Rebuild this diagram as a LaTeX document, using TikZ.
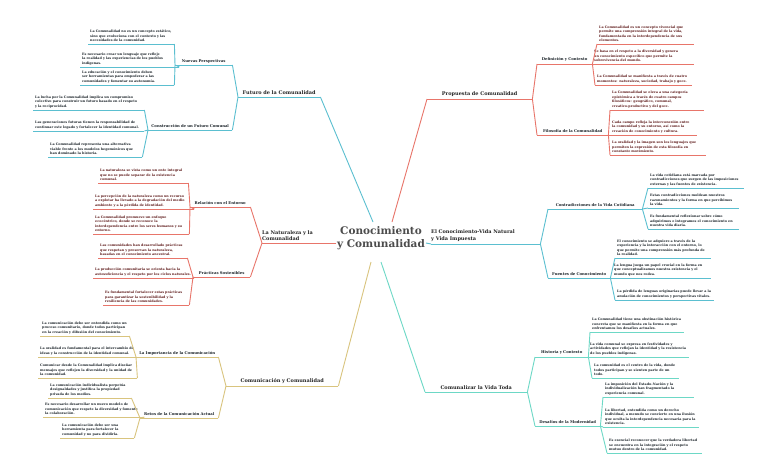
\documentclass[tikz,border=0pt]{standalone}
\usepackage{fontspec}
\setmainfont{DejaVu Serif}
\definecolor{cTeal}{HTML}{5BBFD0}
\definecolor{cRed}{HTML}{E8756A}
\definecolor{cTan}{HTML}{D9C47E}
\definecolor{cMint}{HTML}{6DD8C6}
\definecolor{tRed}{HTML}{5E1A1A}
\definecolor{tDark}{HTML}{1A2228}
\tikzset{
  br/.style={line width=0.9pt, line join=round},
  leaf/.style={font=\bfseries\fontsize{3.3}{4.4}\selectfont, align=left, inner xsep=2pt, inner ysep=2pt, text=tDark},
  subl/.style={font=\bfseries\fontsize{3.8}{5}\selectfont, align=center, inner xsep=0pt, inner ysep=2pt, text=tDark},
  mainl/.style={font=\bfseries\fontsize{5}{6.2}\selectfont, align=center, inner xsep=0pt, inner ysep=2.5pt, text=black!85},
  redt/.style={text=tRed}
}
\newcommand\nd[7]{%
  \node[#1,text width=#5pt-#4pt,anchor=south west] (#2) at (#4,#6) {#7};
  \draw[br,#3] (#2.south west)--(#2.south east);}
\begin{document}
\hyphenpenalty=10000
\exhyphenpenalty=10000
\begin{tikzpicture}[x=1pt,y=-1pt]
\useasboundingbox[fill=white] (0,0) rectangle (768,475);
\node[font=\bfseries\fontsize{10.5}{13}\selectfont, text=black!70, align=center] (c) at (381,238) {Conocimiento\\y Comunalidad};
\coordinate (cF) at (373,222);
\coordinate (cP) at (392,222);
\coordinate (cW) at (336,243);
\coordinate (cE) at (426,243);
\coordinate (cC) at (371,262);
\coordinate (cV) at (381,262);

% ---------- Futuro (teal)
\nd{mainl}{fut}{cTeal}{238}{320}{97}{Futuro de la Comunalidad}
\nd{subl}{np}{cTeal}{175}{232}{65}{Nuevas Perspectivas}
\nd{subl}{cfc}{cTeal}{148}{232}{130}{Construcción de un Futuro Comunal}
\nd{leaf}{np1}{cTeal}{88}{170}{44}{La Comunalidad no es un concepto estático, sino que evoluciona con el contexto y las necesidades de la comunidad.}
\nd{leaf}{np2}{cTeal}{80}{175}{67}{Es necesario crear un lenguaje que refleje la realidad y las experiencias de los pueblos indígenas.}
\nd{leaf}{np3}{cTeal}{80}{170}{85}{La educación y el conocimiento deben ser herramientas para empoderar a las comunidades y fomentar su autonomía.}
\nd{leaf}{cf1}{cTeal}{33}{140}{110}{La lucha por la Comunalidad implica un compromiso colectivo para construir un futuro basado en el respeto y la reciprocidad.}
\nd{leaf}{cf2}{cTeal}{33}{140}{131}{Las generaciones futuras tienen la responsabilidad de continuar este legado y fortalecer la identidad comunal.}
\nd{leaf}{cf3}{cTeal}{48}{138}{157}{La Comunalidad representa una alternativa viable frente a los modelos hegemónicos que han dominado la historia.}
\draw[br,cTeal] (cF) -- (fut.south east);
\draw[br,cTeal] (fut.south west) -- (np.south east);
\draw[br,cTeal] (fut.south west) -- (cfc.south east);
\foreach \l in {np1,np2,np3} \draw[br,cTeal] (np.south west) -- (\l.south east);
\foreach \l in {cf1,cf2,cf3} \draw[br,cTeal] (cfc.south west) -- (\l.south east);

% ---------- Naturaleza (red)
\nd{mainl,align=left}{nat}{cRed}{262}{333}{243}{La Naturaleza y la\\Comunalidad}
\nd{subl}{rel}{cRed}{190}{250}{207}{Relación con el Entorno}
\nd{subl}{pra}{cRed}{193}{250}{277}{Prácticas Sostenibles}
\nd{leaf,redt}{n1}{cRed}{98}{184}{183}{La naturaleza se vista como un ente integral que no se puede separar de la existencia comunal.}
\nd{leaf,redt}{n2}{cRed}{93}{190}{209}{La percepción de la naturaleza como un recurso a explotar ha llevado a la degradación del medio ambiente y a la pérdida de identidad.}
\nd{leaf,redt}{n3}{cRed}{93}{185}{234}{La Comunalidad promueve un enfoque ecocéntrico, donde se reconoce la interdependencia entre los seres humanos y su entorno.}
\nd{leaf,redt}{p1}{cRed}{98}{183}{258}{Las comunidades han desarrollado prácticas que respetan y preservan la naturaleza, basadas en el conocimiento ancestral.}
\nd{leaf,redt}{p2}{cRed}{93}{190}{278}{La producción comunitaria se orienta hacia la autosuficiencia y el respeto por los ciclos naturales.}
\nd{leaf,redt}{p3}{cRed}{103}{185}{305}{Es fundamental fortalecer estas prácticas para garantizar la sostenibilidad y la resiliencia de las comunidades.}
\draw[br,cRed] (cW) -- (nat.south east);
\draw[br,cRed] (nat.south west) -- (rel.south east);
\draw[br,cRed] (nat.south west) -- (pra.south east);
\foreach \l in {n1,n2,n3} \draw[br,cRed] (rel.south west) -- (\l.south east);
\foreach \l in {p1,p2,p3} \draw[br,cRed] (pra.south west) -- (\l.south east);

% ---------- Comunicación (tan)
\nd{mainl}{com}{cTan}{226}{338}{386}{Comunicación y Comunalidad}
\nd{subl}{imp}{cTan}{136}{218}{357}{La Importancia de la Comunicación}
\nd{subl}{ret}{cTan}{140}{218}{418}{Retos de la Comunicación Actual}
\nd{leaf}{i1}{cTan}{40}{125}{336}{La comunicación debe ser entendida como un proceso comunitario, donde todos participan en la creación y difusión del conocimiento.}
\nd{leaf}{i2}{cTan}{38}{135}{357}{La oralidad es fundamental para el intercambio de ideas y la construcción de la identidad comunal.}
\nd{leaf}{i3}{cTan}{38}{133}{378}{Comunicar desde la Comunalidad implica diseñar mensajes que reflejen la diversidad y la unidad de la comunidad.}
\nd{leaf}{r1}{cTan}{48}{127}{398}{La comunicación individualista perpetúa desigualdades y justifica la propiedad privada de los medios.}
\nd{leaf}{r2}{cTan}{43}{140}{417}{Es necesario desarrollar un nuevo modelo de comunicación que respete la diversidad y fomente la colaboración.}
\nd{leaf}{r3}{cTan}{60}{130}{438}{La comunicación debe ser una herramienta para fortalecer la comunidad y no para dividirla.}
\draw[br,cTan] (cC) -- (com.south east);
\draw[br,cTan] (com.south west) -- (imp.south east);
\draw[br,cTan] (com.south west) -- (ret.south east);
\foreach \l in {i1,i2,i3} \draw[br,cTan] (imp.south west) -- (\l.south east);
\foreach \l in {r1,r2,r3} \draw[br,cTan] (ret.south west) -- (\l.south east);

% ---------- Propuesta (red)
\nd{mainl}{pro}{cRed}{427}{532}{99}{Propuesta de Comunalidad}
\nd{subl}{def}{cRed}{537}{592}{64}{Definición y Contexto}
\nd{subl}{fil}{cRed}{537}{608}{135}{Filosofía de la Comunalidad}
\nd{leaf,redt}{d1}{cRed}{597}{690}{44}{La Comunalidad es un concepto vivencial que permite una comprensión integral de la vida, fundamentada en la interdependencia de sus elementos.}
\nd{leaf,redt}{d2}{cRed}{592}{690}{64}{Se basa en el respeto a la diversidad y genera un conocimiento específico que permite la sobrevivencia del mundo.}
\nd{leaf,redt}{d3}{cRed}{595}{688}{85}{La Comunalidad se manifiesta a través de cuatro momentos: naturaleza, sociedad, trabajo y goce.}
\nd{leaf,redt}{f1}{cRed}{610}{700}{110}{La Comunalidad se eleva a una categoría epistémica a través de cuatro campos filosóficos: geográfico, comunal, creativo-productivo y del goce.}
\nd{leaf,redt}{f2}{cRed}{610}{693}{135}{Cada campo refleja la interconexión entre la comunidad y su entorno, así como la creación de conocimiento y cultura.}
\nd{leaf,redt}{f3}{cRed}{610}{702}{155}{La oralidad y la imagen son los lenguajes que permiten la expresión de esta filosofía en constante movimiento.}
\draw[br,cRed] (cP) -- (pro.south west);
\draw[br,cRed] (pro.south east) -- (def.south west);
\draw[br,cRed] (pro.south east) -- (fil.south west);
\foreach \l in {d1,d2,d3} \draw[br,cRed] (def.south east) -- (\l.south west);
\foreach \l in {f1,f2,f3} \draw[br,cRed] (fil.south east) -- (\l.south west);

% ---------- Conocimiento (teal)
\nd{mainl,align=left}{cvn}{cTeal}{431}{540}{244}{El Conocimiento-Vida Natural\\y Vida Impuesta}
\nd{subl}{con}{cTeal}{548}{642}{209}{Contradicciones de la Vida Cotidiana}
\nd{subl}{fue}{cTeal}{548}{610}{278}{Fuentes de Conocimiento}
\nd{leaf}{cv1}{cTeal}{648}{740}{188}{La vida cotidiana está marcada por contradicciones que surgen de las imposiciones externas y las fuentes de existencia.}
\nd{leaf}{cv2}{cTeal}{648}{735}{208}{Estas contradicciones moldean nuestros razonamientos y la forma en que percibimos la vida.}
\nd{leaf}{cv3}{cTeal}{648}{735}{229}{Es fundamental reflexionar sobre cómo adquirimos e integramos el conocimiento en nuestra vida diaria.}
\nd{leaf}{fc1}{cTeal}{615}{707}{258}{El conocimiento se adquiere a través de la experiencia y la interacción con el entorno, lo que permite una comprensión más profunda de la realidad.}
\nd{leaf}{fc2}{cTeal}{612}{707}{278}{La lengua juega un papel crucial en la forma en que conceptualizamos nuestra existencia y el mundo que nos rodea.}
\nd{leaf}{fc3}{cTeal}{615}{710}{300}{La pérdida de lenguas originarias puede llevar a la anulación de conocimientos y perspectivas vitales.}
\draw[br,cTeal] (cE) -- (cvn.south west);
\draw[br,cTeal] (cvn.south east) -- (con.south west);
\draw[br,cTeal] (cvn.south east) -- (fue.south west);
\foreach \l in {cv1,cv2,cv3} \draw[br,cTeal] (con.south east) -- (\l.south west);
\foreach \l in {fc1,fc2,fc3} \draw[br,cTeal] (fue.south east) -- (\l.south west);

% ---------- Comunalizar (mint)
\nd{mainl}{cvt}{cMint}{425}{527}{392}{Comunalizar la Vida Toda}
\nd{subl}{his}{cMint}{535}{588}{357}{Historia y Contexto}
\nd{subl}{des}{cMint}{535}{600}{426}{Desafíos de la Modernidad}
\nd{leaf}{h1}{cMint}{590}{680}{332}{La Comunalidad tiene una obstinación histórica concreta que se manifiesta en la forma en que enfrentamos los desafíos actuales.}
\nd{leaf}{h2}{cMint}{588}{685}{357}{La vida comunal se expresa en festividades y actividades que reflejan la identidad y la resistencia de los pueblos indígenas.}
\nd{leaf}{h3}{cMint}{592}{675}{378}{La comunidad es el centro de la vida, donde todos participan y se sienten parte de un todo.}
\nd{leaf}{dm1}{cMint}{603}{690}{397}{La imposición del Estado-Nación y la individualización han fragmentado la experiencia comunal.}
\nd{leaf}{dm2}{cMint}{603}{695}{427}{La libertad, entendida como un derecho individual, a menudo se convierte en una ilusión que oculta la interdependencia necesaria para la existencia.}
\nd{leaf}{dm3}{cMint}{607}{698}{453}{Es esencial reconocer que la verdadera libertad se encuentra en la integración y el respeto mutuo dentro de la comunidad.}
\draw[br,cMint] (cV) -- (cvt.south west);
\draw[br,cMint] (cvt.south east) -- (his.south west);
\draw[br,cMint] (cvt.south east) -- (des.south west);
\foreach \l in {h1,h2,h3} \draw[br,cMint] (his.south east) -- (\l.south west);
\foreach \l in {dm1,dm2,dm3} \draw[br,cMint] (des.south east) -- (\l.south west);
\end{tikzpicture}
\end{document}
